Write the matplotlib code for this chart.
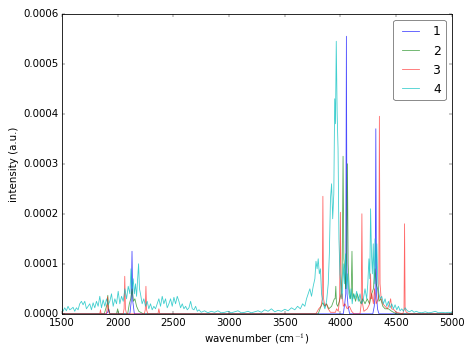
import matplotlib
matplotlib.use("Agg")
import matplotlib.pyplot as plt
from matplotlib.ticker import FormatStrFormatter

plt.style.use('classic')
plt.rcParams['font.size'] = 12.5

# series 1 (blue)
x1 = [1500, 1900, 1912, 1920, 1930, 2110, 2122, 2129, 2136, 2150,
      4025, 4038, 4047, 4053, 4059, 4068, 4082,
      4290, 4303, 4311, 4317, 4323, 4332, 4345, 5000]
y1 = [0, 0, 4e-6, 1e-5, 0, 0, 2.5e-5, 1.25e-4, 2.5e-5, 0,
      0, 2e-5, 4e-5, 5.55e-4, 4e-5, 1.5e-5, 0,
      0, 1.5e-5, 4e-5, 3.7e-4, 4e-5, 1e-5, 0, 0]

# series 2 (green)
x2 = [1500, 1880, 1900, 1907, 1912, 1918, 1930, 1990, 2000, 2010, 2090, 2105,
      2118, 2130, 2142, 2155, 2170, 2190, 2230,
      3800, 3825, 3840, 3860, 3875, 3895, 3920, 3945, 3952, 3958, 3964, 3975,
      3990, 4005, 4015, 4023, 4030, 4038, 4046, 4055, 4062, 4069, 4078, 4088,
      4096, 4103, 4110, 4120, 4135, 4150, 4165, 4185, 4200, 4220, 4240, 4260,
      4280, 4295, 4310, 4320, 4333, 4345, 4360, 4380, 4400, 4430, 4460, 4500, 5000]
y2 = [0, 0, 1.5e-5, 2e-5, 3.7e-5, 1e-5, 0, 0, 1e-5, 0, 0, 2e-5,
      3e-5, 5e-5, 2.5e-5, 3e-5, 1.5e-5, 5e-6, 0,
      0, 1.5e-5, 2.2e-5, 1.5e-5, 2e-5, 1e-5, 1.5e-5, 3e-5, 3e-5, 5.5e-5, 2e-5, 1.5e-5,
      2.5e-5, 4e-5, 8e-5, 3.15e-4, 1.1e-4, 9e-5, 5e-5, 1.2e-4, 3e-4, 1e-4, 5e-5, 3e-5,
      4e-5, 1.25e-4, 3e-5, 4e-5, 2.5e-5, 4e-5, 3e-5, 2e-5, 3e-5, 2e-5, 3e-5, 2e-5,
      4e-5, 5e-5, 9e-5, 6e-5, 5e-5, 2.5e-5, 3e-5, 1.5e-5, 1e-5, 1e-5, 5e-6, 0, 0]

# series 3 (red)
x3 = [1500, 1840, 1846, 1852, 1898, 1905, 1910, 1916, 1925, 2050, 2058, 2064, 2070,
      2080, 2240, 2248, 2254, 2260, 2270, 2362, 2370, 2378,
      3780, 3805, 3825, 3836, 3842, 3848, 3860, 3872, 3890, 3910, 3955, 3965, 3980,
      3992, 3999, 4006, 4015, 4025, 4040, 4060, 4080, 4100, 4120, 4175, 4186, 4192,
      4198, 4210, 4240, 4262, 4270, 4275, 4281, 4295, 4305, 4320, 4338, 4344, 4349,
      4355, 4365, 4380, 4400, 4420, 4440, 4450, 4460, 4480, 4500, 4560, 4570, 4575,
      4580, 4590, 4620, 5000]
y3 = [0, 0, 8e-6, 0, 0, 8e-6, 3.4e-5, 8e-6, 0, 0, 1e-5, 7.5e-5, 1e-5,
      0, 0, 8e-6, 5.5e-5, 8e-6, 0, 0, 1e-5, 0,
      0, 1e-5, 1.5e-5, 3e-5, 2.35e-4, 3e-5, 1.5e-5, 2e-5, 1e-5, 3e-6, 3e-6, 1e-5, 5e-6,
      3e-5, 2.03e-4, 3e-5, 4e-5, 1.5e-5, 2e-5, 1e-5, 1.5e-5, 5e-6, 0, 0, 2e-5, 2e-4,
      2e-5, 5e-6, 1e-5, 2e-5, 8e-5, 3e-5, 4e-5, 2e-5, 5e-5, 2e-5, 3e-5, 6e-5, 3.95e-4,
      6e-5, 3e-5, 2e-5, 1.5e-5, 1e-5, 2e-5, 3e-5, 1e-5, 8e-6, 3e-6, 0, 1e-5, 1.8e-4,
      1e-5, 3e-6, 0, 0]

# series 4 (cyan)
x4 = [1500, 1510, 1525, 1540, 1555, 1570, 1585, 1600, 1615, 1630, 1645, 1660, 1675,
      1690, 1705, 1720, 1735, 1750, 1765, 1780, 1795, 1810, 1825, 1840, 1855, 1870,
      1885, 1900, 1915, 1930, 1945, 1960, 1975, 1990, 2005, 2020, 2035, 2050, 2065,
      2080, 2095, 2110, 2120, 2130, 2140, 2150, 2160, 2170, 2180, 2188, 2196, 2205,
      2220, 2235, 2250, 2265, 2280, 2295, 2310, 2325, 2340, 2355, 2370, 2385, 2400,
      2415, 2430, 2445, 2460, 2475, 2490, 2505, 2520, 2535, 2550, 2565, 2580, 2595,
      2610, 2625, 2640, 2655, 2670, 2685, 2700, 2715, 2730, 2750, 2780, 2810, 2840,
      2870, 2900, 2930, 2960, 2990, 3020, 3050, 3080, 3110, 3140, 3170, 3200, 3230,
      3260, 3290, 3320, 3350, 3380, 3410, 3440, 3470, 3500, 3530, 3560, 3590, 3615,
      3640, 3660, 3680, 3695, 3710, 3725, 3740, 3755, 3770, 3780, 3790, 3800, 3810,
      3820, 3830, 3845, 3860, 3875, 3890, 3900, 3910, 3920, 3930, 3940, 3948, 3955,
      3962, 3970, 3978, 3986, 3995, 4005, 4015, 4025, 4035, 4045, 4055, 4065, 4075,
      4085, 4095, 4105, 4115, 4130, 4145, 4160, 4175, 4190, 4205, 4220, 4235, 4245,
      4255, 4263, 4270, 4278, 4286, 4294, 4302, 4310, 4318, 4326, 4335, 4345, 4355,
      4370, 4385, 4400, 4415, 4430, 4445, 4460, 4475, 4490, 4505, 4520, 4535, 4550,
      4565, 4580, 4600, 4620, 4640, 4660, 4680, 4700, 4730, 4760, 4790, 4820, 4850,
      4880, 4910, 4940, 4970, 5000]
y4 = [1e-5, 5e-6, 1.2e-5, 6e-6, 1.5e-5, 8e-6, 1e-5, 1.3e-5, 5e-6, 1.2e-5, 8e-6, 2e-5, 2.5e-5,
      1.8e-5, 2.5e-5, 1e-5, 1.5e-5, 2e-5, 8e-6, 2.2e-5, 1.2e-5, 2.5e-5, 1.5e-5, 3.5e-5, 1.2e-5, 2.8e-5,
      1.5e-5, 3e-5, 1.8e-5, 2.5e-5, 4e-5, 1.5e-5, 3e-5, 2e-5, 4.5e-5, 2e-5, 3.5e-5, 2.5e-5, 5e-5,
      3e-5, 5.5e-5, 4e-5, 9e-5, 5e-5, 7e-5, 4e-5, 6e-5, 3.5e-5, 7e-5, 1e-4, 5e-5, 4e-5,
      2e-5, 3e-5, 1.5e-5, 2.5e-5, 1e-5, 2e-5, 8e-6, 1.5e-5, 1e-5, 2e-5, 3e-5, 1.5e-5, 3.5e-5,
      2e-5, 3e-5, 1.2e-5, 2e-5, 3e-5, 1.5e-5, 3.3e-5, 2e-5, 3.5e-5, 2.5e-5, 1.2e-5, 2e-5, 1e-5,
      1.5e-5, 8e-6, 1.2e-5, 2.5e-5, 1e-5, 8e-6, 1.5e-5, 5e-6, 8e-6, 3e-6, 6e-6, 2e-6, 5e-6,
      3e-6, 6e-6, 2e-6, 3e-6, 5e-6, 2e-6, 4e-6, 6e-6, 2e-6, 3e-6, 5e-6, 2e-6, 4e-6,
      6e-6, 3e-6, 8e-6, 5e-6, 1e-5, 4e-6, 7e-6, 5e-6, 9e-6, 6e-6, 1.2e-5, 8e-6, 1.5e-5,
      1e-5, 2e-5, 1.5e-5, 3e-5, 4e-5, 5e-5, 3.5e-5, 5.5e-5, 7e-5, 1.05e-4, 9e-5, 1.1e-4, 8e-5,
      9e-5, 4e-5, 2e-5, 1e-5, 2.5e-5, 6e-5, 1.2e-4, 2.3e-4, 2.6e-4, 1.9e-4, 2.4e-4, 4.3e-4, 3.8e-4,
      5.45e-4, 4e-4, 3.3e-4, 1.5e-4, 8e-5, 5e-5, 3e-5, 1e-4, 6e-5, 1.2e-4, 5e-5, 8e-5, 4e-5,
      3e-5, 5e-5, 2e-5, 4e-5, 3e-5, 4.5e-5, 2.5e-5, 4e-5, 2e-5, 3e-5, 5e-5, 3e-5, 6e-5,
      1.1e-4, 7e-5, 2.1e-4, 1.2e-4, 8e-5, 1.4e-4, 6e-5, 1.5e-4, 9e-5, 1.4e-4, 6e-5, 4e-5, 3e-5,
      3.5e-5, 2e-5, 3e-5, 1.5e-5, 2.5e-5, 1.2e-5, 2e-5, 1e-5, 1.8e-5, 8e-6, 1.5e-5, 6e-6, 1e-5,
      5e-6, 1.2e-5, 6e-6, 4e-6, 7e-6, 3e-6, 5e-6, 3e-6, 2e-6, 4e-6, 2e-6, 3e-6, 5e-6,
      2e-6, 3e-6, 2e-6, 3e-6, 2e-6]

fig = plt.figure(figsize=(8, 6), dpi=59.25)
ax = fig.add_subplot(111)

ax.plot(x1, y1, color='b', alpha=0.7, label='1')
ax.plot(x2, y2, color='g', alpha=0.65, label='2')
ax.plot(x3, y3, color='r', alpha=0.6, label='3')
ax.plot(x4, y4, color='c', alpha=0.75, label='4')

ax.set_xlim(1500, 5000)
ax.set_ylim(0, 0.0006)
ax.yaxis.set_major_formatter(FormatStrFormatter('%.4f'))
ax.set_xlabel('wavenumber (cm$^{-1}$)')
ax.set_ylabel('intensity (a.u.)')
leg = ax.legend(loc='upper right', fancybox=True)
leg.get_frame().set_edgecolor('0.45')

fig.tight_layout(pad=0.9)
fig.savefig('out.png', dpi=59.25)
